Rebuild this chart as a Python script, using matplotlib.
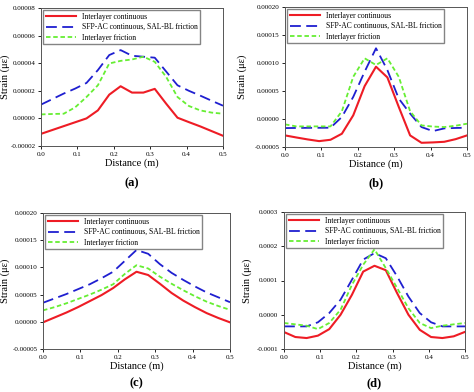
import numpy as np
import matplotlib
matplotlib.use("Agg")
import matplotlib.pyplot as plt
from matplotlib.ticker import FormatStrFormatter

plt.rcParams["font.family"] = ["Liberation Serif", "DejaVu Serif"]
plt.rcParams["axes.unicode_minus"] = False

# Distance points (m)
distance = np.linspace(0, 0.5, 17)

labels = ["Interlayer continuous", "SFP-AC continuous, SAL-BL friction", "Interlayer friction"]
panel_names = ["(a)", "(b)", "(c)", "(d)"]

# Panel (a)
a_cont = [-0.0000112, -0.0000084, -0.0000056, -0.0000028, 0.0, 0.0000058, 0.0000172, 0.0000233,
          0.0000187, 0.0000187, 0.0000214, 0.0000107, 0.0000005, -0.0000027, -0.0000058, -0.0000092, -0.0000126]
a_sfp = [0.0000100, 0.0000140, 0.0000180, 0.0000216, 0.0000257, 0.0000350, 0.0000459, 0.0000495,
         0.0000454, 0.0000447, 0.0000440, 0.0000340, 0.0000240, 0.0000200, 0.0000165, 0.0000128, 0.0000092]
a_fric = [0.0000029, 0.0000032, 0.0000034, 0.0000080, 0.0000155, 0.0000240, 0.0000398, 0.0000417,
          0.0000427, 0.0000447, 0.0000410, 0.0000301, 0.0000155, 0.0000090, 0.0000058, 0.0000042, 0.0000034]

# Panel (b)
b_cont = [-0.0000293, -0.0000330, -0.0000365, -0.0000395, -0.0000371, -0.0000263, 0.0000066, 0.0000587,
          0.0000934, 0.0000743, 0.0000216, -0.0000293, -0.0000425, -0.0000418, -0.0000407, -0.0000360, -0.0000293]
b_sfp = [-0.0000162, -0.0000160, -0.0000158, -0.0000157, -0.0000156, 0.0000036, 0.0000395, 0.0000844,
         0.0001263, 0.0000874, 0.0000365, 0.0000096, -0.0000144, -0.0000216, -0.0000168, -0.0000160, -0.0000156]
b_fric = [-0.0000096, -0.0000132, -0.0000132, -0.0000132, -0.0000132, 0.0000138, 0.0000754, 0.0001084,
          0.0000964, 0.0001084, 0.0000754, 0.0000138, -0.0000114, -0.0000135, -0.0000144, -0.0000120, -0.0000084]

# Panel (c)
c_cont = [-0.0000010, 0.0000080, 0.0000170, 0.0000270, 0.0000380, 0.0000490, 0.0000620, 0.0000780,
          0.0000920, 0.0000860, 0.0000700, 0.0000530, 0.0000390, 0.0000270, 0.0000160, 0.0000070, -0.0000010]
c_sfp = [0.0000350, 0.0000430, 0.0000510, 0.0000600, 0.0000690, 0.0000800, 0.0000920, 0.0001120,
         0.0001320, 0.0001250, 0.0001060, 0.0000900, 0.0000770, 0.0000650, 0.0000540, 0.0000450, 0.0000360]
c_fric = [0.0000210, 0.0000270, 0.0000340, 0.0000420, 0.0000500, 0.0000590, 0.0000690, 0.0000880,
          0.0001040, 0.0000980, 0.0000830, 0.0000700, 0.0000580, 0.0000470, 0.0000370, 0.0000290, 0.0000220]

# Panel (d)
d_cont = [-0.0000505, -0.0000650, -0.0000680, -0.0000610, -0.0000420, 0.0, 0.0000580, 0.0001260,
          0.0001430, 0.0001300, 0.0000630, 0.0, -0.0000440, -0.0000650, -0.0000680, -0.0000630, -0.0000500]
d_sfp = [-0.0000340, -0.0000340, -0.0000340, -0.0000220, 0.0000050, 0.0000440, 0.0001020, 0.0001610,
         0.0001800, 0.0001650, 0.0001120, 0.0000530, 0.0000050, -0.0000220, -0.0000340, -0.0000340, -0.0000340]
d_fric = [-0.0000240, -0.0000280, -0.0000320, -0.0000420, -0.0000240, 0.0000146, 0.0000870, 0.0001460,
          0.0001910, 0.0001360, 0.0000780, 0.0000190, -0.0000240, -0.0000390, -0.0000320, -0.0000280, -0.0000240]

panel_data = [(a_cont, a_sfp, a_fric), (b_cont, b_sfp, b_fric),
              (c_cont, c_sfp, c_fric), (d_cont, d_sfp, d_fric)]
y_ranges = [(-0.00002, 0.00008, 0.00002, "%.5f"),
            (-0.00005, 0.00020, 0.00005, "%.5f"),
            (-0.00005, 0.00020, 0.00005, "%.5f"),
            (-0.0001, 0.0003, 0.0001, "%.4f")]

# axes boxes in pixels: left, right, top, bottom
boxes = [(41, 223, 8, 146), (285, 467, 7, 147), (43, 230, 213, 349), (284, 465, 212, 349)]
# y label x position (pixels) and panel label y position (pixels)
ylabel_x = [10, 247, 10, 252]
name_y = [183, 183, 383, 383]

W, H = 474, 392
fig = plt.figure(figsize=(W / 100, H / 100), dpi=100)

colors = ["#ee1c25", "#1f1fd0", "#66ee33"]
styles = ["-", (0, (6, 3)), (0, (2.5, 1.5))]
widths = [1.5, 1.3, 1.3]

for i in range(4):
    l, r, t, b = boxes[i]
    ax = fig.add_axes([l / W, 1 - b / H, (r - l) / W, (b - t) / H])
    for series, c, ls, lw, lab in zip(panel_data[i], colors, styles, widths, labels):
        ax.plot(distance, series, color=c, linestyle=ls, linewidth=lw, label=lab)
    lo, hi, step, fmt = y_ranges[i]
    ax.set_ylim(lo, hi)
    ax.set_yticks(np.arange(lo, hi + step / 2, step))
    ax.yaxis.set_major_formatter(FormatStrFormatter(fmt))
    ax.set_xlim(0, 0.5)
    ax.set_xticks([0, 0.1, 0.2, 0.3, 0.4, 0.5])
    ax.xaxis.set_major_formatter(FormatStrFormatter("%.1f"))
    ax.tick_params(labelsize=5, length=2, width=0.6, pad=2)
    for s in ax.spines.values():
        s.set_linewidth(0.7)
        s.set_color("#555555")
    ax.set_xlabel("Distance (m)", fontsize=7.5, labelpad=1)
    ax.set_ylabel("Strain (με)", fontsize=7.5)
    ax.yaxis.set_label_coords((ylabel_x[i] - l) / (r - l), 0.5)
    ax.legend(loc="upper left", fontsize=5.5, frameon=True, fancybox=False,
              edgecolor="#666666", handlelength=4, borderaxespad=0.3,
              labelspacing=0.35, borderpad=0.3)
    fig.text((l + r) / 2 / W, 1 - name_y[i] / H, panel_names[i], ha="center", va="center",
             fontsize=9, fontweight="bold")

fig.savefig("out.png", dpi=100)
